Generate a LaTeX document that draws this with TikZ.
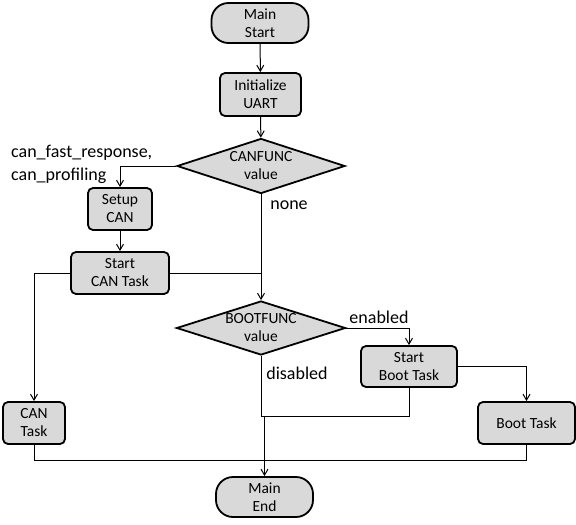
\documentclass[tikz,border=0pt]{standalone}
\usepackage{fontspec}
\setmainfont{Carlito}
\usetikzlibrary{shapes.geometric,arrows.meta}
\definecolor{boxfill}{HTML}{D9D9D9}
\tikzset{
  box/.style={draw=black, line width=1.8pt, fill=boxfill, rounded corners=5pt, align=center,
    inner sep=0pt, font=\fontsize{15.5}{18}\selectfont},
  term/.style={box, rounded corners=17pt},
  dec/.style={diamond, draw=black, line width=1.8pt, fill=boxfill, align=center, inner sep=0pt,
    aspect=3, font=\fontsize{15.5}{18}\selectfont},
  lab/.style={font=\fontsize{18}{23}\selectfont, inner sep=0pt, align=left},
  conn/.style={line width=1pt},
  arr/.style={conn, -{Straight Barb[length=6pt,width=7pt]}}
}
\begin{document}
\begin{tikzpicture}[x=1pt,y=-1pt]
\useasboundingbox (0,0) rectangle (576,525);
\node[term, minimum width=97pt, minimum height=40pt] (start) at (260,23) {Main\\Start};
\node[box, minimum width=81pt, minimum height=43pt] (init) at (260.5,94.5) {Initialize\\UART};
\node[dec, minimum width=168pt, minimum height=55pt] (canfunc) at (261,166) {CANFUNC\\value};
\node[box, minimum width=64pt, minimum height=42pt] (setup) at (120,209) {Setup\\CAN};
\node[box, minimum width=98pt, minimum height=42pt] (startcan) at (120,273) {Start\\CAN Task};
\node[box, minimum width=62pt, minimum height=42pt] (cantask) at (34,423) {CAN\\Task};
\node[dec, minimum width=169pt, minimum height=54pt] (bootfunc) at (261,328) {BOOTFUNC\\value};
\node[box, minimum width=96pt, minimum height=41pt] (startboot) at (409,366.5) {Start\\Boot Task};
\node[box, minimum width=97pt, minimum height=42pt] (boottask) at (526.5,423) {Boot Task};
\node[term, minimum width=97pt, minimum height=40pt] (end) at (264.5,497) {Main\\End};

\node[lab, anchor=west] (l1) at (11,164) {can\_fast\_response,\\can\_profiling};
\node[lab] (l2) at (289,205) {none};
\node[lab] (l3) at (379,317) {enabled};
\node[lab] (l4) at (297,373) {disabled};

\coordinate (m) at (261,416);
\coordinate (b) at (0,460);

\draw[arr] (start) -- (init);
\draw[arr] (init) -- (canfunc);
\draw[arr] (canfunc.west) -| (setup.north);
\draw[arr] (setup) -- (startcan);
\draw[arr] (canfunc.south) -- (bootfunc.north);
\draw[conn] (startcan.east) -- (startcan.east -| canfunc.south);
\draw[arr] (startcan.west) -| (cantask.north);
\draw[arr] (bootfunc.east) -| (startboot.north);
\draw[conn] (bootfunc.south) -- (m) -| (startboot.south);
\draw[arr] (end.north |- m) -- (end.north);
\draw[arr] (startboot.east) -| (boottask.north);
\draw[conn] (cantask.south) -- (cantask.south |- b) -- (boottask.south |- b) -- (boottask.south);
\end{tikzpicture}
\end{document}
